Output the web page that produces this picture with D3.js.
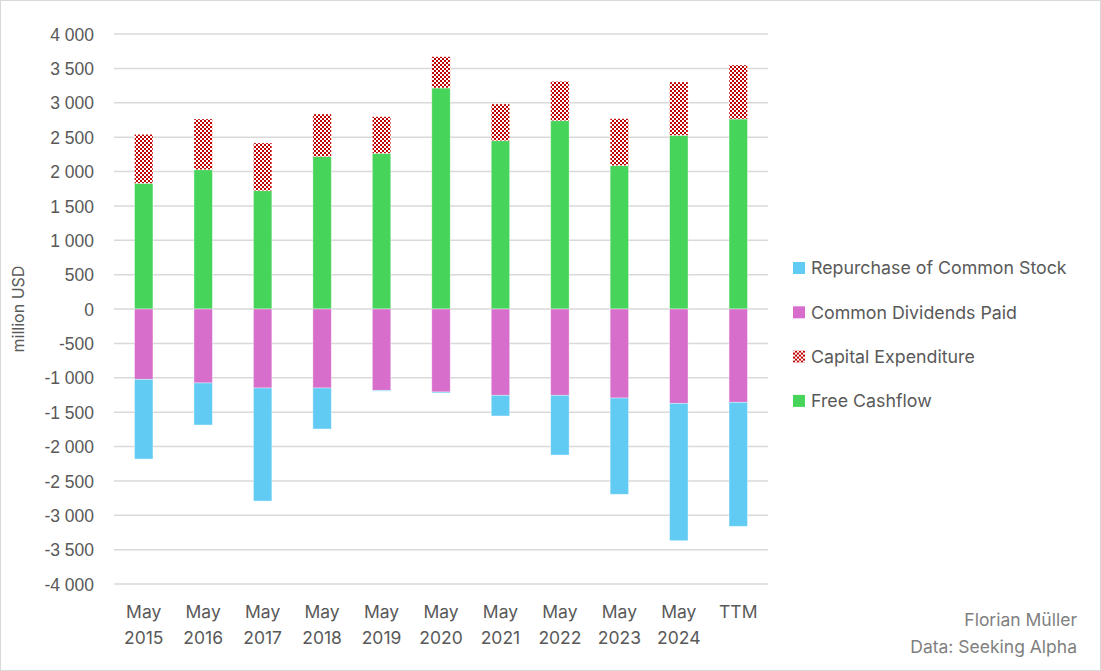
<!DOCTYPE html>
<html>
<head>
<meta charset="utf-8">
<script src="https://cdn.jsdelivr.net/npm/d3@7"></script>
<style>
  body { margin: 0; background: #fff; }
  svg { display: block; }
  text { fill: #595959; }
</style>
</head>
<body>
<svg width="1101" height="671"></svg>
<script>
var categories = ["May 2015", "May 2016", "May 2017", "May 2018", "May 2019", "May 2020",
    "May 2021", "May 2022", "May 2023", "May 2024", "TTM"];
var freeCashflow = [1828, 2026, 1721, 2216, 2265, 3215, 2448, 2739, 2085, 2526, 2764];
var capitalExpenditure = [713, 738, 694, 620, 532, 455, 534, 573, 683, 776, 785];
var dividendsPaid = [-1023, -1076, -1149, -1149, -1183, -1207, -1255, -1255, -1295, -1372, -1357];
var repurchase = [-1159, -611, -1644, -596, -12, -15, -301, -869, -1400, -1998, -1804];
var yTicks = [-4000, -3500, -3000, -2500, -2000, -1500, -1000, -500, 0, 500, 1000, 1500, 2000, 2500, 3000, 3500, 4000];

var series = [
    { key: "fcf", name: "Free Cashflow", values: freeCashflow, fill: "#47d45a" },
    { key: "capex", name: "Capital Expenditure", values: capitalExpenditure, fill: "url(#checker)" },
    { key: "div", name: "Common Dividends Paid", values: dividendsPaid, fill: "#d86ecc" },
    { key: "rep", name: "Repurchase of Common Stock", values: repurchase, fill: "#61cbf4" }
];

var svg = d3.select("svg");
var width = +svg.attr("width");
var height = +svg.attr("height");

svg.append("rect")
    .attr("x", 0.5).attr("y", 0.5)
    .attr("width", width - 1).attr("height", height - 1)
    .attr("fill", "#fff")
    .attr("stroke", "#d9d9d9");

// small checkerboard like the excel pattern fill
var pat = svg.append("defs").append("pattern")
    .attr("id", "checker")
    .attr("patternUnits", "userSpaceOnUse")
    .attr("width", 4).attr("height", 4);
pat.append("rect").attr("width", 4).attr("height", 4).attr("fill", "#fff");
pat.append("rect").attr("width", 2).attr("height", 2).attr("fill", "#c00000");
pat.append("rect").attr("x", 2).attr("y", 2).attr("width", 2).attr("height", 2).attr("fill", "#c00000");

var plot = { left: 114, right: 768, top: 34, bottom: 584 };

var x = d3.scaleBand()
    .domain(categories)
    .range([plot.left, plot.right])
    .paddingInner(0.69)
    .paddingOuter(0.345);

var y = d3.scaleLinear()
    .domain([-4000, 4000])
    .range([plot.bottom, plot.top]);

var locale = d3.formatLocale({ decimal: ",", thousands: "\u2009", grouping: [3], currency: ["", ""], minus: "-" });
var fmt = locale.format(",d");

// gridlines
svg.append("g")
    .selectAll("line")
    .data(yTicks)
    .enter().append("line")
    .attr("x1", plot.left)
    .attr("x2", plot.right)
    .attr("y1", function (d) { return y(d); })
    .attr("y2", function (d) { return y(d); })
    .attr("stroke", "#d9d9d9")
    .attr("stroke-width", 1.5);

// y axis
var yAxis = svg.append("g")
    .attr("transform", "translate(" + (plot.left - 20) + ",0)")
    .call(d3.axisLeft(y).tickValues(yTicks).tickSize(0).tickPadding(0)
        .tickFormat(function (d) { return fmt(d).replace("\u2009", " "); }));
yAxis.select(".domain").remove();
yAxis.selectAll("text")
    .attr("font-family", "'Liberation Sans', Arial, sans-serif")
    .attr("font-size", "17.5px")
    .style("fill", "#595959")
    .attr("dy", "0.35em");

svg.append("text")
    .attr("transform", "translate(24," + y(0) + ") rotate(-90)")
    .attr("text-anchor", "middle")
    .attr("font-family", "Inter, 'Noto Sans', sans-serif")
    .attr("font-size", "16px")
    .text("million USD");

// stacked bars
var table = categories.map(function (c, i) {
    var row = { cat: c };
    series.forEach(function (s) { row[s.key] = s.values[i]; });
    return row;
});

var stack = d3.stack()
    .keys(series.map(function (s) { return s.key; }))
    .offset(d3.stackOffsetDiverging);
var stacked = stack(table);

svg.append("g")
    .selectAll("g")
    .data(stacked)
    .enter().append("g")
    .attr("fill", function (d, i) { return series[i].fill; })
    .selectAll("rect")
    .data(function (d) { return d; })
    .enter().append("rect")
    .attr("x", function (d) { return x(d.data.cat); })
    .attr("width", x.bandwidth())
    .attr("y", function (d) { return y(Math.max(d[0], d[1])); })
    .attr("height", function (d) { return Math.abs(y(d[0]) - y(d[1])); })
    .attr("stroke", "#ffffff")
    .attr("stroke-opacity", 0.5)
    .attr("stroke-width", 0.75);

// x labels
var xl = svg.append("g")
    .selectAll("text")
    .data(categories)
    .enter().append("text")
    .attr("x", function (d) { return x(d) + x.bandwidth() / 2; })
    .attr("y", 618)
    .attr("text-anchor", "middle")
    .attr("font-family", "Inter, 'Noto Sans', sans-serif")
    .attr("font-size", "17.5px");
xl.each(function (d) {
    var parts = d.split(" ");
    var t = d3.select(this);
    parts.forEach(function (p, i) {
        t.append("tspan")
            .attr("x", t.attr("x"))
            .attr("dy", i === 0 ? 0 : 26)
            .text(p);
    });
});

// legend
var legendItems = series.slice().reverse();
var lg = svg.append("g")
    .selectAll("g")
    .data(legendItems)
    .enter().append("g")
    .attr("transform", function (d, i) { return "translate(793," + (268 + i * 44.3) + ")"; });
lg.append("rect")
    .attr("y", -6)
    .attr("width", 12)
    .attr("height", 12)
    .attr("fill", function (d) { return d.fill; });
lg.append("text")
    .attr("x", 18)
    .attr("dy", "0.35em")
    .attr("font-family", "Inter, 'Noto Sans', sans-serif")
    .attr("font-size", "17.8px")
    .text(function (d) { return d.name; });

// credits
var credits = ["Florian M\u00fcller", "Data: Seeking Alpha"];
svg.append("g")
    .selectAll("text")
    .data(credits)
    .enter().append("text")
    .attr("x", 1077)
    .attr("y", function (d, i) { return 626 + i * 27; })
    .attr("text-anchor", "end")
    .attr("font-family", "Inter, 'Noto Sans', sans-serif")
    .attr("font-size", "17.5px")
    .style("fill", "#7f7f7f")
    .text(function (d) { return d; });
</script>
</body>
</html>
